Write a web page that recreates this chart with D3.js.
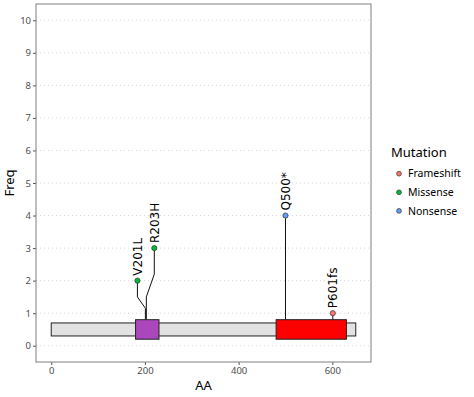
<!DOCTYPE html>
<html>
<head>
<meta charset="utf-8">
<script src="https://cdn.jsdelivr.net/npm/d3@7"></script>
<style>
  body { margin: 0; background: #fff; }
</style>
</head>
<body>
<div id="chart"></div>
<script>
// Mutations on the protein
var mutLabels = ["V201L", "R203H", "Q500*", "P601fs"];
var mutPos = [201, 203, 500, 601];
var mutFreq = [2, 3, 4, 1];
var mutType = ["Missense", "Missense", "Nonsense", "Frameshift"];
// repelled x of the lollipop heads and the bend levels of their stems
var headPos = [184, 220, 500, 601];
var bendHigh = [1.5, 2.2, 4, 1];
var bendLow = [1.15, 1.5, 0.8, 0.8];

// Protein backbone and domains
var proteinLength = 650;
var domStart = [180, 480];
var domEnd = [230, 630];

var mutTypes = ["Frameshift", "Missense", "Nonsense"];
var xTicks = [0, 200, 400, 600];
var yTicks = [0, 1, 2, 3, 4, 5, 6, 7, 8, 9, 10];

var width = 474, height = 397;
var svg = d3.select("#chart").append("svg")
  .attr("width", width)
  .attr("height", height);

var x = d3.scaleLinear().domain([-32.5, 682.5]).range([36, 371]);
var y = d3.scaleLinear().domain([-0.5, 10.5]).range([362, 4]);
var color = d3.scaleOrdinal().domain(mutTypes).range(["#F8766D", "#00BA38", "#619CFF"]);
var domColor = ["#ab47bc", "#ff0000"];

// grid lines
svg.append("g")
  .selectAll("line")
  .data(yTicks)
  .enter()
  .append("line")
    .attr("x1", 36).attr("x2", 371)
    .attr("y1", function(d) { return y(d); })
    .attr("y2", function(d) { return y(d); })
    .attr("stroke", "#d6d6d6")
    .attr("stroke-width", 1)
    .attr("stroke-dasharray", "1,3");

// axes
var fontAxis = "'Noto Sans', 'Open Sans', sans-serif";
var yAxis = svg.append("g")
  .attr("transform", "translate(36,0)")
  .call(d3.axisLeft(y).tickValues(yTicks).tickSize(3).tickPadding(2));
var xAxis = svg.append("g")
  .attr("transform", "translate(0,362)")
  .call(d3.axisBottom(x).tickValues(xTicks).tickSize(3).tickPadding(2));
[xAxis, yAxis].forEach(function(ax) {
  ax.select(".domain").remove();
  ax.selectAll(".tick line").attr("stroke", "#555");
  ax.selectAll(".tick text")
    .attr("fill", "#4d4d4d")
    .style("font-family", fontAxis)
    .style("font-size", "9.5px");
});

// panel border
svg.append("rect")
  .attr("x", 36).attr("y", 4)
  .attr("width", 335).attr("height", 358)
  .attr("fill", "none")
  .attr("stroke", "#7f7f7f")
  .attr("stroke-width", 1);

// axis titles
svg.append("text")
  .attr("x", x(325)).attr("y", 390)
  .attr("text-anchor", "middle")
  .style("font-family", fontAxis)
  .style("font-size", "13px")
  .text("AA");
svg.append("text")
  .attr("transform", "translate(14," + y(5) + ") rotate(-90)")
  .attr("text-anchor", "middle")
  .style("font-family", fontAxis)
  .style("font-size", "13px")
  .text("Freq");

// lollipop stems
var idx = d3.range(mutLabels.length);
svg.append("g")
  .selectAll("path")
  .data(idx)
  .enter()
  .append("path")
    .attr("d", function(i) {
      return d3.line()([
        [x(headPos[i]), y(mutFreq[i])],
        [x(headPos[i]), y(bendHigh[i])],
        [x(mutPos[i]), y(bendLow[i])],
        [x(mutPos[i]), y(0.8)]
      ]);
    })
    .attr("fill", "none")
    .attr("stroke", "#111")
    .attr("stroke-width", 1);

// backbone
svg.append("rect")
  .attr("x", x(0)).attr("y", y(0.7))
  .attr("width", x(proteinLength) - x(0))
  .attr("height", y(0.3) - y(0.7))
  .attr("fill", "#e2e2e2")
  .attr("stroke", "#222")
  .attr("stroke-width", 1);

// domains
svg.append("g")
  .selectAll("rect")
  .data(d3.range(domStart.length))
  .enter()
  .append("rect")
    .attr("x", function(i) { return x(domStart[i]); })
    .attr("y", y(0.8))
    .attr("width", function(i) { return x(domEnd[i]) - x(domStart[i]); })
    .attr("height", y(0.2) - y(0.8))
    .attr("fill", function(i) { return domColor[i]; })
    .attr("stroke", "#222")
    .attr("stroke-width", 1);

// lollipop heads
svg.append("g")
  .selectAll("circle")
  .data(idx)
  .enter()
  .append("circle")
    .attr("cx", function(i) { return x(headPos[i]); })
    .attr("cy", function(i) { return y(mutFreq[i]); })
    .attr("r", 2.6)
    .attr("fill", function(i) { return color(mutType[i]); })
    .attr("stroke", "#333")
    .attr("stroke-width", 0.7);

// mutation labels
svg.append("g")
  .selectAll("text")
  .data(idx)
  .enter()
  .append("text")
    .attr("transform", function(i) {
      return "translate(" + x(headPos[i]) + "," + (y(mutFreq[i]) - 5) + ") rotate(-90)";
    })
    .attr("dy", "0.36em")
    .style("font-family", "'DejaVu Sans', sans-serif")
    .style("font-size", "12px")
    .text(function(i) { return mutLabels[i]; });

// legend
var legend = svg.append("g").attr("transform", "translate(391,0)");
legend.append("text")
  .attr("x", 0).attr("y", 157)
  .style("font-family", fontAxis)
  .style("font-size", "13px")
  .text("Mutation");
mutTypes.forEach(function(t, i) {
  var cy = 173.7 + i * 18.6;
  legend.append("circle")
    .attr("cx", 8).attr("cy", cy)
    .attr("r", 2.4)
    .attr("fill", color(t))
    .attr("stroke", "#333")
    .attr("stroke-width", 0.7);
  legend.append("text")
    .attr("x", 17).attr("y", cy)
    .attr("dy", "0.35em")
    .style("font-family", fontAxis)
    .style("font-size", "10.5px")
    .text(t);
});
</script>
</body>
</html>
